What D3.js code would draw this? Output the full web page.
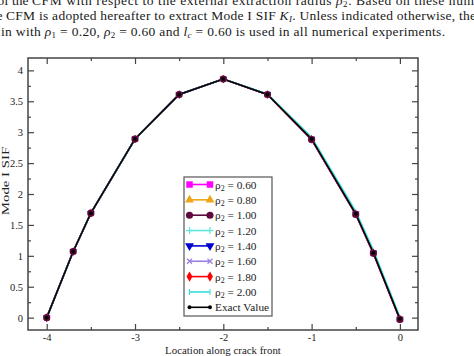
<!DOCTYPE html>
<html><head><meta charset="utf-8">
<script src="https://cdn.jsdelivr.net/npm/d3@7"></script>
<style>body{margin:0;background:#fff}svg{display:block}</style>
</head><body>
<script>
// ---- data ----
const locations = [-4, -3.7, -3.5, -3, -2.5, -2, -1.5, -1, -0.5, -0.3, 0];
const exactValue = [0, 1.07, 1.69, 2.89, 3.61, 3.86, 3.61, 2.89, 1.68, 1.05, -0.02];
const rho060 = [0, 1.07, 1.69, 2.89, 3.61, 3.86, 3.61, 2.88, 1.67, 1.04, -0.03];
const rho080 = [0, 1.07, 1.69, 2.89, 3.61, 3.86, 3.61, 2.88, 1.67, 1.04, -0.03];
const rho100 = [0, 1.07, 1.69, 2.89, 3.61, 3.86, 3.61, 2.88, 1.67, 1.04, -0.03];
const rho120 = [0, 1.07, 1.69, 2.89, 3.61, 3.86, 3.61, 2.89, 1.68, 1.05, -0.02];
const rho140 = [0, 1.07, 1.69, 2.89, 3.61, 3.86, 3.61, 2.89, 1.68, 1.05, -0.02];
const rho160 = [0, 1.07, 1.69, 2.89, 3.61, 3.86, 3.61, 2.89, 1.68, 1.05, -0.02];
const rho180 = [0, 1.07, 1.69, 2.89, 3.61, 3.86, 3.61, 2.89, 1.68, 1.05, -0.02];
const rho200 = [0, 1.07, 1.69, 2.89, 3.61, 3.86, 3.62, 2.92, 1.72, 1.09, 0.01];
const seriesLabels = ["0.60", "0.80", "1.00", "1.20", "1.40", "1.60", "1.80", "2.00"];
const xTicks = [-4, -3, -2, -1, 0];
const yTicks = [0, 0.5, 1, 1.5, 2, 2.5, 3, 3.5, 4];
const xLabel = "Location along crack front";
const yLabel = "Mode I SIF";

const series = [
  {label: seriesLabels[0], values: rho060, color: "#ff00ff", sym: "square"},
  {label: seriesLabels[1], values: rho080, color: "#f0a418", sym: "triangle"},
  {label: seriesLabels[2], values: rho100, color: "#5e0a3e", sym: "circle"},
  {label: seriesLabels[3], values: rho120, color: "#5fe6dc", sym: "plus"},
  {label: seriesLabels[4], values: rho140, color: "#0000d0", sym: "triDown"},
  {label: seriesLabels[5], values: rho160, color: "#9a80e0", sym: "x"},
  {label: seriesLabels[6], values: rho180, color: "#ff0000", sym: "diamond"},
  {label: seriesLabels[7], values: rho200, color: "#33dede", sym: "none"}
];

const W = 474, H = 356;
const svg = d3.select("body").append("svg").attr("width", W).attr("height", H)
  .style("font-family", "'Liberation Serif','Times New Roman',serif");

// ---- header text ----
const head = svg.append("g").attr("fill", "#1a1a1a").style("font-size", "13.5px");
function line(y, x, parts, opts) {
  const t = head.append("text").attr("x", x).attr("y", y);
  if (opts && opts.anchor) t.attr("text-anchor", opts.anchor);
  if (opts && opts.len) t.attr("textLength", opts.len).attr("lengthAdjust", "spacing");
  parts.forEach(p => {
    const s = t.append("tspan").text(p.t);
    if (p.i) s.style("font-style", "italic");
    if (p.sub) s.attr("baseline-shift", "-25%").style("font-size", "9px");
  });
}
line(4.5, 28.5, [{t: "ence of the"}], {anchor: "end"});
line(4.5, 32, [{t: "CFM with respect to the external extraction radius "}, {t: "ρ", i: 1}, {t: "2", sub: 1}, {t: ". Based on these num"}], {len: 442});
line(20, 2.5, [{t: "e"}], {anchor: "end"});
line(20, 6, [{t: "CFM is adopted hereafter to extract Mode I SIF "}, {t: "K", i: 1}, {t: "I", sub: 1, i: 1}, {t: ". Unless indicated otherwise, the"}], {len: 470});
line(36, 1, [{t: "in with "}, {t: "ρ", i: 1}, {t: "1", sub: 1}, {t: " = 0.20, "}, {t: "ρ", i: 1}, {t: "2", sub: 1}, {t: " = 0.60 and "}, {t: "l", i: 1}, {t: "c", sub: 1, i: 1}, {t: " = 0.60 is used in all numerical experiments."}], {len: 444});

// ---- scales ----
const L = 28, R = 418, T = 58, B = 330;
const x = d3.scaleLinear().domain([-4.212, 0.205]).range([L, R]);
const y = d3.scaleLinear().domain([-0.2, 4.2]).range([B, T]);

const xMinor = d3.range(-3.5, 0.1, 1);
const yMinor = d3.range(0.25, 4.1, 0.5);
const frameColor = "#444";

function styleAxis(g) {
  g.select(".domain").remove();
  g.selectAll("line").attr("stroke", frameColor).attr("stroke-width", 1.2);
  g.selectAll("text").attr("fill", "#222").style("font-size", "10.5px").style("font-family", "'Liberation Serif',serif");
}
const fmt = d => String(d);
// bottom
svg.append("g").attr("transform", `translate(0,${B})`)
  .call(d3.axisBottom(x).tickValues(xTicks).tickSize(-6).tickPadding(4).tickFormat(fmt))
  .call(styleAxis);
svg.append("g").attr("transform", `translate(0,${B})`)
  .call(d3.axisBottom(x).tickValues(xMinor).tickSize(-3).tickFormat(""))
  .call(styleAxis);
// top
svg.append("g").attr("transform", `translate(0,${T})`)
  .call(d3.axisTop(x).tickValues(xTicks).tickSize(-6).tickFormat(""))
  .call(styleAxis);
svg.append("g").attr("transform", `translate(0,${T})`)
  .call(d3.axisTop(x).tickValues(xMinor).tickSize(-3).tickFormat(""))
  .call(styleAxis);
// left
svg.append("g").attr("transform", `translate(${L},0)`)
  .call(d3.axisLeft(y).tickValues(yTicks).tickSize(-6).tickPadding(5).tickFormat(fmt))
  .call(styleAxis);
svg.append("g").attr("transform", `translate(${L},0)`)
  .call(d3.axisLeft(y).tickValues(yMinor).tickSize(-3).tickFormat(""))
  .call(styleAxis);
// right
svg.append("g").attr("transform", `translate(${R},0)`)
  .call(d3.axisRight(y).tickValues(yTicks).tickSize(-6).tickFormat(""))
  .call(styleAxis);
svg.append("g").attr("transform", `translate(${R},0)`)
  .call(d3.axisRight(y).tickValues(yMinor).tickSize(-3).tickFormat(""))
  .call(styleAxis);

svg.append("rect").attr("x", L).attr("y", T).attr("width", R - L).attr("height", B - T)
  .attr("fill", "none").attr("stroke", frameColor).attr("stroke-width", 1.5);

// axis titles
svg.append("text").attr("x", 223).attr("y", 354).attr("text-anchor", "middle")
  .attr("fill", "#222").style("font-size", "10.9px").text(xLabel);
svg.append("text").attr("transform", `translate(8.5,${181}) rotate(-90) scale(1.35,1)`).attr("text-anchor", "middle")
  .attr("fill", "#222").style("font-size", "11px").text(yLabel);

// ---- marker helper ----
function marker(g, sym, color, cx, cy, scale) {
  const s = scale || 1;
  if (sym === "none") return;
  if (sym === "plus" || sym === "x") {
    const r = 3.5 * s;
    const gg = g.append("g").attr("transform", `translate(${cx},${cy})${sym === "x" ? " rotate(45)" : ""}`)
      .attr("stroke", color).attr("stroke-width", 1.2);
    gg.append("line").attr("x1", -r).attr("x2", r);
    gg.append("line").attr("y1", -r).attr("y2", r);
    return;
  }
  let type = d3.symbolCircle, size = 40 * s * s, rot = 0;
  if (sym === "square") { type = d3.symbolSquare; size = 42 * s * s; }
  if (sym === "triangle") { type = d3.symbolTriangle; size = 34 * s * s; }
  if (sym === "triDown") { type = d3.symbolTriangle; size = 34 * s * s; rot = 180; }
  if (sym === "diamond") { type = d3.symbolDiamond; size = 30 * s * s; }
  if (sym === "dot") { type = d3.symbolCircle; size = 12 * s * s; }
  g.append("path").attr("d", d3.symbol().type(type).size(size)())
    .attr("transform", `translate(${cx},${cy}) rotate(${rot})`).attr("fill", color);
}

// ---- plot lines ----
const lineGen = d3.line().x(d => x(d[0])).y(d => y(d[1]));
const plot = svg.append("g");
series.forEach(s => {
  plot.append("path").datum(locations.map((l, i) => [l, s.values[i]]))
    .attr("d", lineGen).attr("fill", "none").attr("stroke", s.color).attr("stroke-width", 1.6);
});
plot.append("path").datum(locations.map((l, i) => [l, exactValue[i]]))
  .attr("d", lineGen).attr("fill", "none").attr("stroke", "#000").attr("stroke-width", 1.5);

// markers: others first, then rho=1.00 circles, then exact dots
const order = [0, 1, 3, 4, 5, 6, 7, 2];
order.forEach(k => {
  const s = series[k];
  locations.forEach((l, i) => marker(plot, s.sym, s.color, x(l), y(s.values[i]), k === 2 ? 1.0 : 0.85));
});
locations.forEach((l, i) => marker(plot, "dot", "#000", x(l), y(exactValue[i]), 1));

// ---- legend ----
const lg = svg.append("g");
lg.append("rect").attr("x", 184).attr("y", 177).attr("width", 88).attr("height", 139)
  .attr("fill", "#fff").attr("stroke", "#555").attr("stroke-width", 1.2);
const rowY = i => 184.5 + i * 15.35;
const legendItems = series.concat([{label: "Exact Value", color: "#000", sym: "dot", exact: true}]);
legendItems.forEach((s, i) => {
  const cy = rowY(i);
  lg.append("line").attr("x1", 189.5).attr("x2", 210).attr("y1", cy).attr("y2", cy)
    .attr("stroke", s.color).attr("stroke-width", 1.6);
  if (s.sym === "none") {
    [189.5, 210].forEach(xx => lg.append("line").attr("x1", xx).attr("x2", xx).attr("y1", cy - 3).attr("y2", cy + 3)
      .attr("stroke", s.color).attr("stroke-width", 1));
  } else {
    marker(lg, s.sym, s.color, 189.5, cy, 1);
    marker(lg, s.sym, s.color, 210, cy, 1);
  }
  const t = lg.append("text").attr("x", 215).attr("y", cy + 4).attr("fill", "#222").style("font-size", "11.3px");
  if (s.exact) {
    t.text(s.label);
  } else {
    t.append("tspan").text("ρ");
    t.append("tspan").attr("baseline-shift", "-25%").style("font-size", "8px").text("2");
    t.append("tspan").text(" = " + s.label);
  }
});
</script>
</body></html>
